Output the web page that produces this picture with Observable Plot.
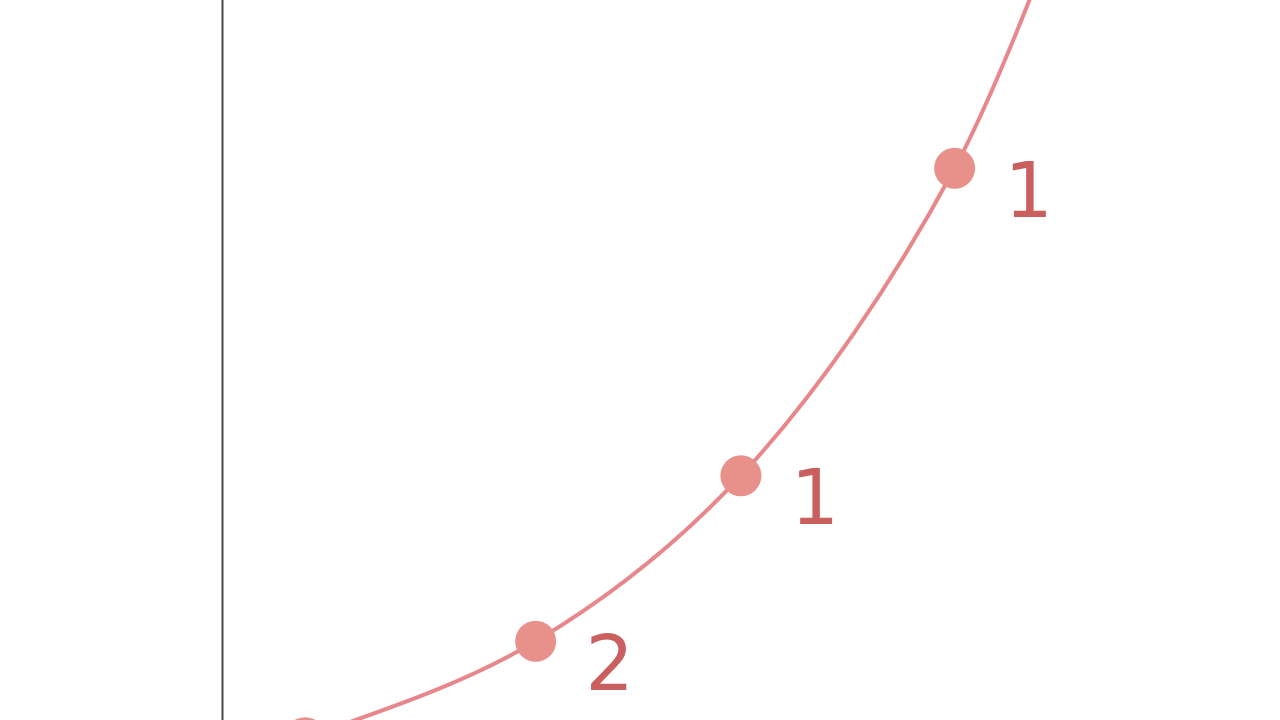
<!DOCTYPE html>
<html>
<head>
<meta charset="utf-8">
<script src="https://cdn.jsdelivr.net/npm/d3@7"></script>
<script src="https://cdn.jsdelivr.net/npm/@observablehq/plot@0.6"></script>
<style>
  html, body { margin: 0; padding: 0; background: #ffffff; overflow: hidden; }
  #chart svg { display: block; }
</style>
</head>
<body>
<div id="chart"></div>
<script>
// Data read from the (cropped) reference chart
const xValues = [-1.34, 0.78, 2.96, 4.9, 6.92, 8.5];
const yValues = [-1.15, -0.24, 1.1, 3.4, 7.67, 13.5];
const labels = ["", "", "2", "1", "1", ""];

const data = xValues.map((x, i) => ({x, y: yValues[i], label: labels[i]}));

const chart = Plot.plot({
  width: 1280,
  height: 720,
  marginLeft: 222,
  marginRight: 0,
  marginTop: 0,
  marginBottom: 0,
  style: {background: "#ffffff", fontFamily: "DejaVu Sans"},
  x: {domain: [0, 10], axis: null},
  y: {domain: [0, 10], axis: null},
  marks: [
    Plot.line(data, {x: "x", y: "y", curve: "catmull-rom", stroke: "#e8878b", strokeWidth: 4, clip: true}),
    Plot.dot(data, {x: "x", y: "y", r: 20.5, fill: "#e8908a", stroke: "none", clip: true}),
    Plot.text(data, {x: "x", y: "y", text: "label", dx: 74, dy: 24, fontSize: 76, fill: "#c95f5f", clip: true}),
    Plot.ruleX([0], {stroke: "#4a4a4a", strokeWidth: 2})
  ]
});
document.getElementById("chart").appendChild(chart);
</script>
</body>
</html>
